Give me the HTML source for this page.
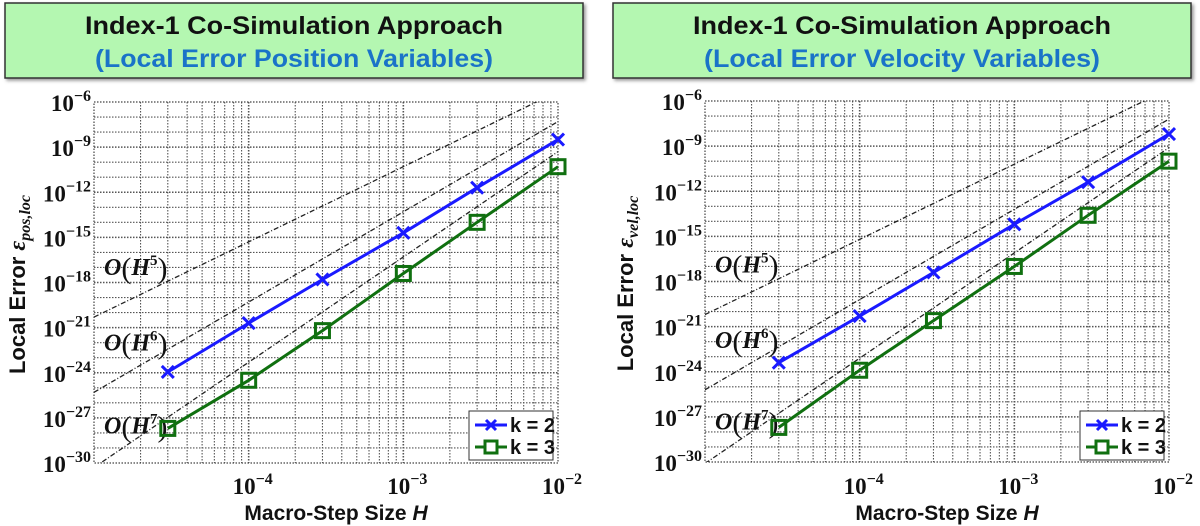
<!DOCTYPE html>
<html><head><meta charset="utf-8"><style>
html,body{margin:0;padding:0;background:#fff;width:1200px;height:526px;overflow:hidden}
svg{display:block}
</style></head><body>
<svg id="chart" width="1200" height="526" viewBox="0 0 1200 526" xmlns="http://www.w3.org/2000/svg">
<defs><filter id="sh" x="-5%" y="-10%" width="110%" height="130%"><feDropShadow dx="2" dy="2" stdDeviation="1.5" flood-color="#555" flood-opacity="0.6"/></filter></defs>
</svg>
<script>
// shared axis config
const xTickExps = [-4, -3, -2];
const yTickExps = [-30, -27, -24, -21, -18, -15, -12, -9, -6];
const stepSizes = [3e-5, 1e-4, 3e-4, 1e-3, 3e-3, 1e-2];
// left panel (position) log10 error
const posK2 = [-23.95, -20.7, -17.8, -14.7, -11.7, -8.5];
const posK3 = [-27.7, -24.5, -21.2, -17.4, -14.0, -10.3];
// right panel (velocity) log10 error
const velK2 = [-23.4, -20.3, -17.4, -14.2, -11.4, -8.2];
const velK3 = [-27.7, -23.9, -20.6, -17.0, -13.6, -10.0];
// reference order lines: order, log10 value at H=1e-5
const refOrders = [5, 6, 7];
const posRefStart = [-20.3, -25.3, -30.3];
const velRefStart = [-20.2, -25.2, -30.1];

const NS = 'http://www.w3.org/2000/svg';
const svg = document.getElementById('chart');
function mk(tag, attrs, parent) {
  const e = document.createElementNS(NS, tag);
  for (const k in attrs) e.setAttribute(k, attrs[k]);
  (parent || svg).appendChild(e);
  return e;
}

function panel(p) {
  const g = mk('g', {});
  
  
  const X = v => p.x0 + (Math.log10(v) + 5) / 3 * (p.x1 - p.x0);
  const XL = l => p.x0 + (l + 5) / 3 * (p.x1 - p.x0);
  const Y = l => p.y1 - (l + 30) / 24 * (p.y1 - p.y0);

  const box = mk('rect', {x: p.bx, y: 3, width: p.bw, height: 75, fill: '#b4f7b1', stroke: '#333', 'stroke-width': 1.5, filter: 'url(#sh)'}, g);
  
  
  const t1 = mk('text', {x: p.bx + p.bw / 2, y: 34, 'text-anchor': 'middle', 'font-family': 'Liberation Sans, sans-serif', 'font-weight': 'bold', 'font-size': 25, fill: '#111', textLength: 418, lengthAdjust: 'spacingAndGlyphs'}, g);
  t1.textContent = 'Index-1 Co-Simulation Approach';
  
  
  const t2 = mk('text', {x: p.bx + p.bw / 2, y: 67, 'text-anchor': 'middle', 'font-family': 'Liberation Sans, sans-serif', 'font-weight': 'bold', 'font-size': 25, fill: '#1a73c8', textLength: p.subW, lengthAdjust: 'spacingAndGlyphs'}, g);
  t2.textContent = p.sub;
  
  

  const grid = mk('g', {stroke: '#555', 'stroke-width': 1, 'stroke-dasharray': '1.5,1.5', fill: 'none'}, g);
  
  
  for (let d = -5; d < -2; d++) for (let m = 1; m <= 9; m++) {
    const x = X(m * Math.pow(10, d));
    if (x <= p.x0 + 1) continue;
    mk('line', {x1: x, x2: x, y1: p.y0, y2: p.y1, 'stroke-width': m === 1 ? 1.6 : 1.1}, grid);
  }
  for (let l = -29; l < -6; l++) {
    mk('line', {x1: p.x0, x2: p.x1, y1: Y(l), y2: Y(l), 'stroke-width': l % 3 === 0 ? 1.6 : 1.1}, grid);
  }
  const frame = mk('rect', {x: p.x0, y: p.y0, width: p.x1 - p.x0, height: p.y1 - p.y0, fill: 'none', stroke: '#444', 'stroke-width': 1.2, 'stroke-dasharray': '1.5,1.5'}, g);
  
  

  const clip = 'clip-' + p.name;
  const cp = mk('clipPath', {id: clip}, g);
  mk('rect', {x: p.x0, y: p.y0, width: p.x1 - p.x0, height: p.y1 - p.y0}, cp);
  refOrders.forEach((o, i) => {
    const s = p.ref[i];
    const ln = mk('line', {x1: XL(-5), y1: Y(s), x2: XL(-2), y2: Y(s + 3 * o), stroke: '#222', 'stroke-width': 1.3, 'stroke-dasharray': '5,2,1,2', 'clip-path': 'url(#' + clip + ')'}, g);
    
    
    const lb = mk('text', {x: p.x0 + 10, y: Y(s) - 42 + (i === 2 ? 8 : 0), 'font-family': 'Liberation Serif, serif', 'font-style': 'italic', 'font-weight': 'bold', 'font-size': 24, fill: '#111'}, g);
    lb.innerHTML = 'O<tspan font-style="normal" font-weight="normal" font-size="30" dy="3">(</tspan><tspan dy="-3">H</tspan><tspan dy="-10" font-size="15" font-style="normal">' + o + '</tspan><tspan dy="13" font-style="normal" font-weight="normal" font-size="30">)</tspan>';
    
    
  });

  const series = [{d: p.k2, c: '#1a1aff', m: 'x', n: 'series-k2'}, {d: p.k3, c: '#107010', m: 's', n: 'series-k3'}];
  series.forEach(s => {
    const sg = mk('g', {}, g);
    
    
    const pts = stepSizes.map((h, i) => X(h).toFixed(1) + ',' + Y(s.d[i]).toFixed(1)).join(' ');
    mk('polyline', {points: pts, fill: 'none', stroke: s.c, 'stroke-width': 3}, sg);
    stepSizes.forEach((h, i) => {
      const x = X(h), y = Y(s.d[i]);
      let mkEl;
      if (s.m === 'x') {
        mkEl = mk('path', {d: `M${x-6},${y-6}L${x+6},${y+6}M${x-6},${y+6}L${x+6},${y-6}`, stroke: s.c, 'stroke-width': 3}, sg);
      } else {
        mkEl = mk('rect', {x: x - 7, y: y - 7, width: 14, height: 14, fill: 'none', stroke: s.c, 'stroke-width': 3}, sg);
      }
      
      
    });
  });

  const tkAttr = {'font-family': 'Liberation Serif, serif', 'font-weight': 'bold', 'font-size': 23, fill: '#111'};
  yTickExps.forEach(l => {
    const t = mk('text', Object.assign({x: p.x0 - 3, y: Y(l) + 9, 'text-anchor': 'end'}, tkAttr), g);
    t.innerHTML = '10<tspan font-size="16" dy="-10">\u2212' + (-l) + '</tspan>';
    
    
  });
  xTickExps.forEach(l => {
    const t = mk('text', Object.assign({x: XL(l) + 4, y: 494, 'text-anchor': 'middle'}, tkAttr), g);
    t.innerHTML = '10<tspan font-size="16" dy="-10">\u2212' + (-l) + '</tspan>';
    
    
  });
  const xl = mk('text', {x: (p.x0 + p.x1) / 2 + 10, y: 520, 'text-anchor': 'middle', 'font-family': 'Liberation Sans, sans-serif', 'font-weight': 'bold', 'font-size': 21, fill: '#111'}, g);
  xl.innerHTML = 'Macro-Step Size <tspan font-style="italic">H</tspan>';
  
  
  const yl = mk('text', {transform: `translate(${p.bx + 20},${(p.y0 + p.y1) / 2 + 2}) rotate(-90)`, 'text-anchor': 'middle', 'font-family': 'Liberation Sans, sans-serif', 'font-weight': 'bold', 'font-size': 22, fill: '#111'}, g);
  yl.innerHTML = 'Local Error <tspan font-family="Liberation Serif, serif" font-style="italic" font-size="24">\u03b5</tspan><tspan font-family="Liberation Serif, serif" font-style="italic" font-size="16" dy="5">' + p.sym + '</tspan>';
  
  

  const lg = mk('g', {}, g);
  
  
  const lx = p.x1 - 89, ly = 411;
  mk('rect', {x: lx, y: ly, width: 84, height: 49, fill: '#fff', stroke: '#333', 'stroke-width': 1}, lg);
  [['k = 2', '#1a1aff', 'x'], ['k = 3', '#107010', 's']].forEach((e, i) => {
    const ey = ly + 14 + i * 22;
    const en = mk('g', {}, lg);
    
    
    mk('line', {x1: lx + 6, x2: lx + 38, y1: ey, y2: ey, stroke: e[1], 'stroke-width': 3}, en);
    const cx = lx + 22;
    if (e[2] === 'x') mk('path', {d: `M${cx-5},${ey-5}L${cx+5},${ey+5}M${cx-5},${ey+5}L${cx+5},${ey-5}`, stroke: e[1], 'stroke-width': 3}, en);
    else mk('rect', {x: cx - 6, y: ey - 6, width: 12, height: 12, fill: '#fff', stroke: e[1], 'stroke-width': 3}, en);
    const tt = mk('text', {x: lx + 41, y: ey + 7, 'font-family': 'Liberation Sans, sans-serif', 'font-weight': 'bold', 'font-size': 20, fill: '#111'}, en);
    tt.textContent = e[0];
  });
}

panel({name: 'position-panel', bx: 5, bw: 578, x0: 94, x1: 558, y0: 102, y1: 463,
  sub: '(Local Error Position Variables)', subW: 398, sym: 'pos,loc', k2: posK2, k3: posK3, ref: posRefStart});
panel({name: 'velocity-panel', bx: 613, bw: 578, x0: 705, x1: 1169, y0: 101, y1: 462,
  sub: '(Local Error Velocity Variables)', subW: 396, sym: 'vel,loc', k2: velK2, k3: velK3, ref: velRefStart});
</script>
</body></html>
